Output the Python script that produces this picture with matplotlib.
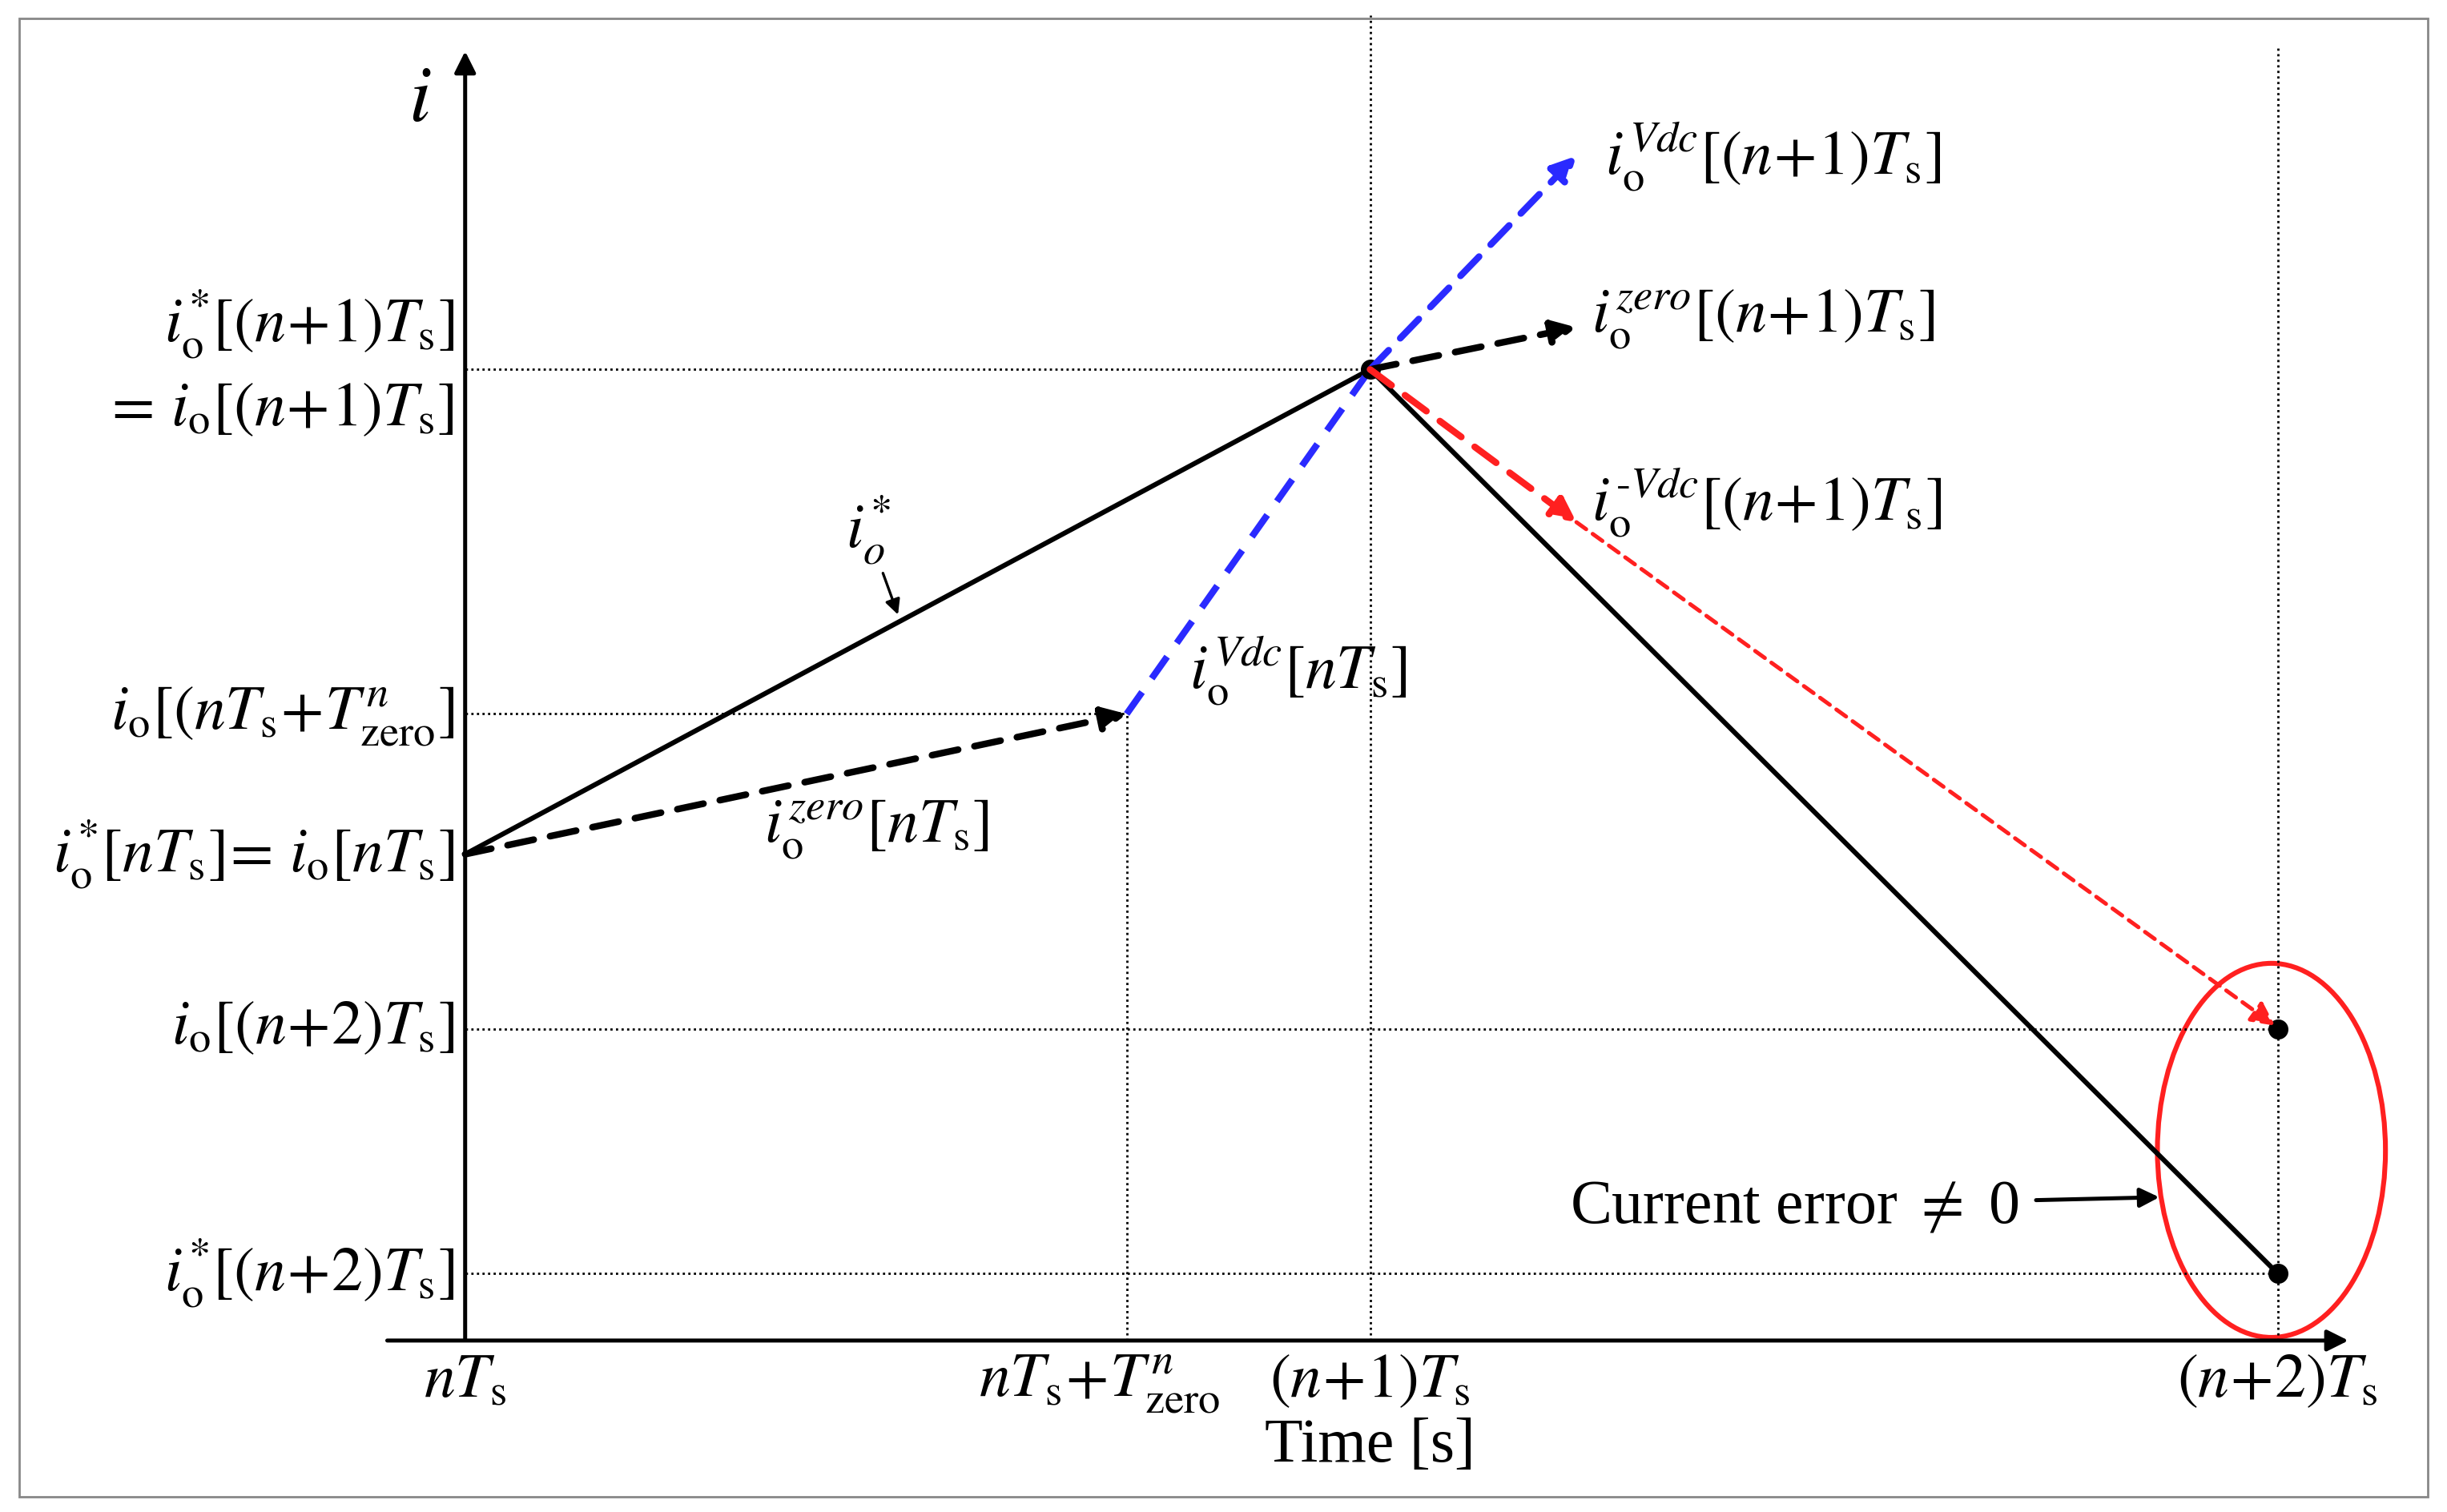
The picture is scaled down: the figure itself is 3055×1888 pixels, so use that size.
import matplotlib
matplotlib.use("Agg")
import matplotlib.pyplot as plt
from matplotlib.patches import Ellipse, Rectangle

plt.rcParams['font.family'] = ['Liberation Serif', 'DejaVu Serif']
plt.rcParams['mathtext.fontset'] = 'stix'

# time instants (units of Ts)
t_n, t_zero, t_n1, t_n2 = 0.0, 0.731, 1.0, 2.003
# current levels
i_ref_n = 3.12
i_tzero = 4.02
i_ref_n1 = 6.23
i_n2 = 2.0
i_ref_n2 = 0.43
# arrow tips of the predicted slopes at (n+1)Ts
tip_x = 1.228
tip_vdc_n1, tip_zero_n1, tip_mvdc_n1 = 7.6, 6.5, 5.25

fig = plt.figure(figsize=(15.275, 9.44), dpi=200)
ax = fig.add_axes([0, 0, 1, 1])
ax.set_xlim(-0.514, 2.19)
ax.set_ylim(-1.1, 8.6)
ax.axis('off')

ax.add_patch(Rectangle((-0.493, -1.0), 2.662, 9.48, fill=False, lw=1, ec='#888888'))

# axes arrows
ax.annotate('', xy=(2.086, 0), xytext=(-0.091, 0),
            arrowprops=dict(arrowstyle='-|>', lw=1.8, color='k', mutation_scale=20))
ax.annotate('', xy=(0, 8.3), xytext=(0, -0.02),
            arrowprops=dict(arrowstyle='-|>', lw=1.8, color='k', mutation_scale=20))

# dotted guide lines
dot = dict(color='k', lw=1, ls=(0, (1, 1.5)))
ax.plot([0, t_n1], [i_ref_n1] * 2, **dot)
ax.plot([0, t_zero], [i_tzero] * 2, **dot)
ax.plot([0, t_n2], [i_n2] * 2, **dot)
ax.plot([0, t_n2], [i_ref_n2] * 2, **dot)
ax.plot([t_zero] * 2, [0, i_tzero], **dot)
ax.plot([t_n1] * 2, [0, 8.5], **dot)
ax.plot([t_n2] * 2, [0, 8.3], **dot)

# reference current
ax.plot([t_n, t_n1, t_n2], [i_ref_n, i_ref_n1, i_ref_n2], color='k', lw=2.2)

def darrow(x0, y0, x1, y1, color, lw=3, ls=(0, (4, 2.5))):
    ax.annotate('', xy=(x1, y1), xytext=(x0, y0),
                arrowprops=dict(arrowstyle='-|>', lw=lw, color=color, ls=ls,
                                mutation_scale=22, shrinkA=0, shrinkB=0))

blue = '#2a2aff'
darrow(t_n, i_ref_n, t_zero, i_tzero, 'k')
ax.plot([t_zero, t_n1], [i_tzero, i_ref_n1], color=blue, lw=3, ls=(0, (4, 2.5)))
darrow(t_n1, i_ref_n1, tip_x, tip_vdc_n1, blue)
darrow(t_n1, i_ref_n1, tip_x, tip_zero_n1, 'k')
darrow(t_n1, i_ref_n1, tip_x, tip_mvdc_n1, '#ff2020')
darrow(tip_x, tip_mvdc_n1, t_n2 - 0.003, i_n2 + 0.02, '#ff2020', lw=1.8, ls=(0, (3, 2)))

ax.plot([t_n1, t_n2, t_n2], [i_ref_n1, i_n2, i_ref_n2], 'o', color='k', ms=8)

ax.add_patch(Ellipse((1.996, 1.22), 0.252, 2.4, fill=False, ec='#ff2020', lw=2.2))

fs = 28
ax.text(-0.05, 7.95, r'$i$', fontsize=36, ha='center', va='center')
ax.text(-0.012, 6.52, r'$i_{\rm o}^{*}[(n\!+\!1)T_{\rm s}]$', fontsize=fs, ha='right', va='center')
ax.text(-0.012, 5.97, r'$=\, i_{\rm o}[(n\!+\!1)T_{\rm s}]$', fontsize=fs, ha='right', va='center')
ax.text(-0.012, 4.0, r'$i_{\rm o}[(nT_{\rm s}\!+\!T_{\rm zero}^{n}]$', fontsize=fs, ha='right', va='center')
ax.text(-0.012, 3.12, r'$i_{\rm o}^{*}[nT_{\rm s}]\!=\, i_{\rm o}[nT_{\rm s}]$', fontsize=fs, ha='right', va='center')
ax.text(-0.012, 2.0, r'$i_{\rm o}[(n\!+\!2)T_{\rm s}]$', fontsize=fs, ha='right', va='center')
ax.text(-0.012, 0.43, r'$i_{\rm o}^{*}[(n\!+\!2)T_{\rm s}]$', fontsize=fs, ha='right', va='center')

ax.text(t_n, -0.08, r'$nT_{\rm s}$', fontsize=fs, ha='center', va='top')
ax.text(t_zero - 0.03, -0.08, r'$nT_{\rm s}\!+\!T_{\rm zero}^{n}$', fontsize=fs, ha='center', va='top')
ax.text(t_n1, -0.08, r'$(n\!+\!1)T_{\rm s}$', fontsize=fs, ha='center', va='top')
ax.text(t_n2, -0.08, r'$(n\!+\!2)T_{\rm s}$', fontsize=fs, ha='center', va='top')
ax.text(t_n1, -0.68, 'Time [s]', fontsize=fs, ha='center', va='center')

ax.text(0.445, 5.2, r'$i_o^{*}$', fontsize=fs, ha='center', va='center')
ax.annotate('', xy=(0.48, 4.63), xytext=(0.46, 4.95),
            arrowprops=dict(arrowstyle='-|>', lw=1.2, color='k', mutation_scale=14))
ax.text(0.80, 4.3, r'$i_{\rm o}^{Vdc}[nT_{\rm s}]$', fontsize=fs, ha='left', va='center')
ax.text(0.33, 3.28, r'$i_{\rm o}^{zero}[nT_{\rm s}]$', fontsize=fs, ha='left', va='center')
ax.text(1.26, 7.6, r'$i_{\rm o}^{Vdc}[(n\!+\!1)T_{\rm s}]$', fontsize=fs, ha='left', va='center')
ax.text(1.245, 6.55, r'$i_{\rm o}^{zero}[(n\!+\!1)T_{\rm s}]$', fontsize=fs, ha='left', va='center')
ax.text(1.245, 5.38, r'$i_{\rm o}^{\text{-}Vdc}[(n\!+\!1)T_{\rm s}]$', fontsize=fs, ha='left', va='center')

ax.text(1.469, 0.85, r'Current error $\neq$ 0', fontsize=fs, ha='center', va='center')
ax.annotate('', xy=(1.877, 0.92), xytext=(1.731, 0.9),
            arrowprops=dict(arrowstyle='-|>', lw=1.8, color='k', mutation_scale=18))

fig.savefig('out.png', dpi=200)
